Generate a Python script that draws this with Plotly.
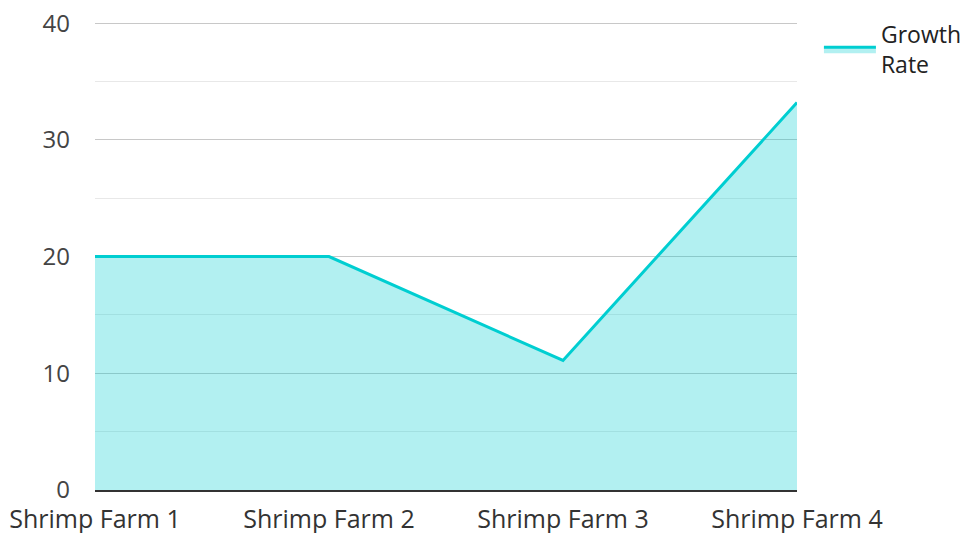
import plotly.graph_objects as go

categories = ["Shrimp Farm 1", "Shrimp Farm 2", "Shrimp Farm 3", "Shrimp Farm 4"]
growth_rate = [20, 20, 11.1, 33.2]
series_name = "Growth<br>Rate"

fig = go.Figure()
fig.add_trace(go.Scatter(
    x=categories, y=growth_rate, name=series_name, mode="lines",
    line=dict(color="#00CED1", width=3),
    fill="tozeroy", fillcolor="rgba(0,206,209,0.3)",
))

fig.update_layout(
    width=970, height=533,
    margin=dict(l=87, r=181, t=14, b=51, autoexpand=False),
    paper_bgcolor="white", plot_bgcolor="white",
    font=dict(family="Open Sans", size=24, color="#444"),
    showlegend=True,
    legend=dict(xref="container", yref="container", x=0.836, y=0.991,
                xanchor="left", yanchor="top",
                font=dict(size=23, color="#222"), itemwidth=52),
)
fig.update_xaxes(
    range=[0, 3], showgrid=False, showline=True, linecolor="#333", linewidth=2,
    ticks="", tickfont=dict(size=25, color="#333"), ticklabelstandoff=6,
    automargin=False, ticklabeloverflow="allow",
)
fig.update_yaxes(
    range=[0, 40.1], dtick=10, showgrid=True, gridcolor="#c8c8c8", gridwidth=1,
    zeroline=False, showline=False, ticks="", ticklabelstandoff=24,
    tickfont=dict(size=24, color="#444"), automargin=False,
    ticklabeloverflow="allow",
    minor=dict(dtick=5, showgrid=True, gridcolor="#e8e8e8", gridwidth=1),
)
fig.write_html("out.html")
